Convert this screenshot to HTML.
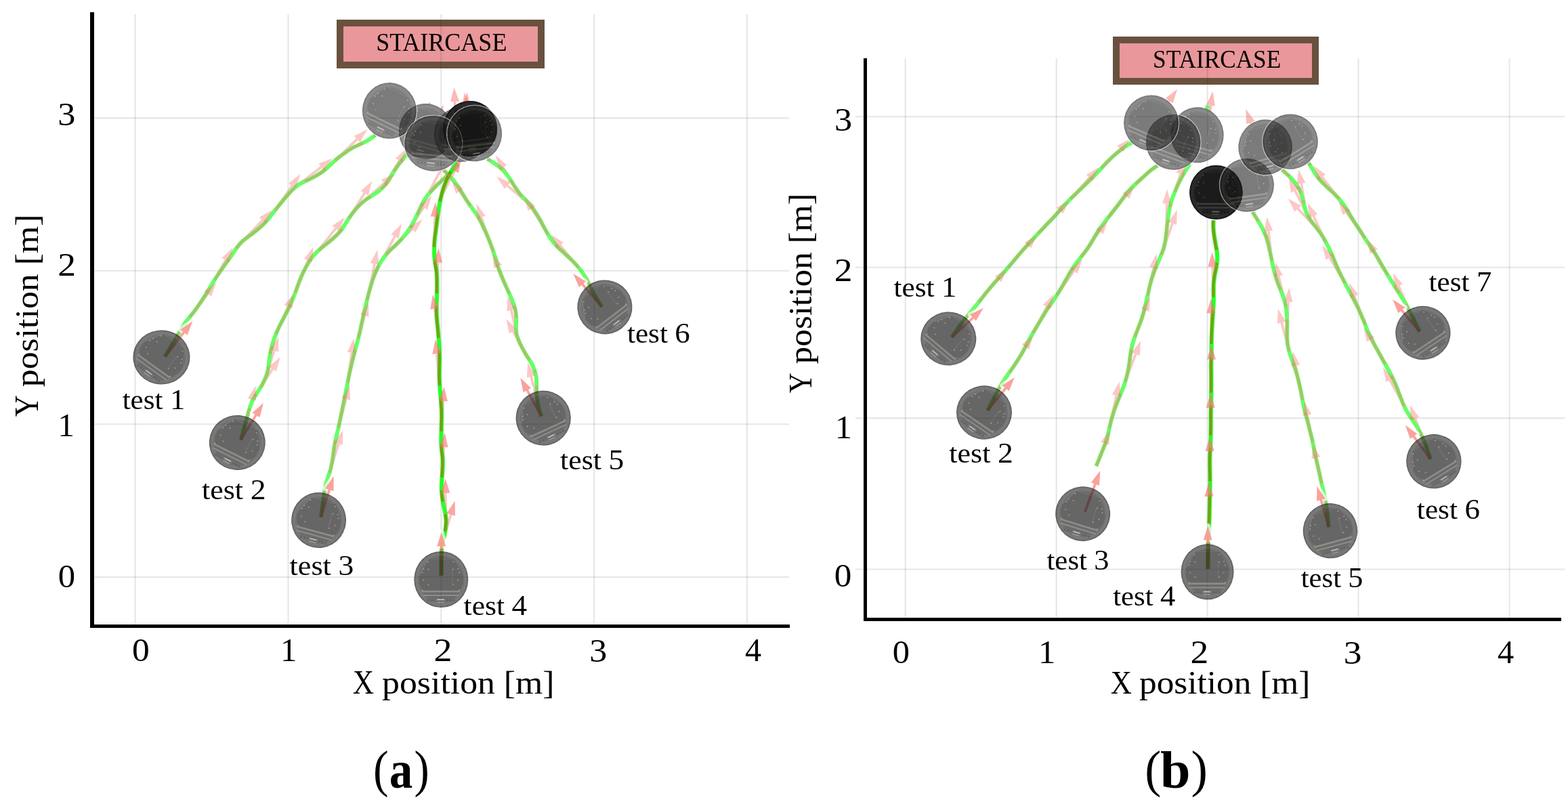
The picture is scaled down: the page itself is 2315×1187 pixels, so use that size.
<!DOCTYPE html>
<html lang="en"><head><meta charset="utf-8"><title>Robot docking trajectories</title>
<style>html,body{margin:0;padding:0;background:#fff}body{width:2315px;height:1187px;overflow:hidden}svg{display:block}text{font-family:"Liberation Serif","DejaVu Serif",serif;fill:#000}</style>
</head><body>
<svg width="2315" height="1187" viewBox="0 0 2315 1187" role="img" aria-label="Robot docking trajectories towards the staircase, panels (a) and (b)">
<defs>
<radialGradient id="rg" cx="0" cy="0" r="40" gradientUnits="userSpaceOnUse">
<stop offset="0" stop-color="#1e1e1e"/><stop offset="0.8" stop-color="#202020"/><stop offset="0.89" stop-color="#383838"/><stop offset="0.95" stop-color="#2c2c2c"/><stop offset="0.985" stop-color="#0a0a0a"/><stop offset="1" stop-color="#000"/>
</radialGradient>
<g id="rb">
<circle r="40" fill="url(#rg)"/>
<path d="M-19 -29 L19 -29 L33 -6 L33 6 L28 16 L-28 16 L-33 6 L-33 -6 Z" fill="#181818" stroke="#2e2e2e" stroke-width="0.7"/>
<path d="M-33 -5 L-19.5 -28.5" stroke="#444" stroke-width="0.9" fill="none"/>
<rect x="-29" y="15.8" width="57" height="2.4" fill="#54544c"/>
<rect x="-27.5" y="21.6" width="54" height="2" fill="#54544c"/>
<rect x="-22" y="27.2" width="43" height="4.4" rx="1.2" fill="#2a2a2a"/>
<rect x="-6" y="27.8" width="10.5" height="1.5" fill="#a8a8a8"/>
<rect x="-6" y="32" width="10.5" height="1.3" fill="#6e6e6e"/>
<g fill="#0c0c0c"><rect x="-19.5" y="28" width="2" height="2.8"/><rect x="-15" y="28" width="2.6" height="2.8"/><rect x="-10.5" y="28" width="1.5" height="2.8"/><rect x="8" y="28" width="2.4" height="2.8"/><rect x="12" y="28" width="2.6" height="2.8"/><rect x="17" y="28" width="1.8" height="2.8"/></g>
<path d="M16.5 -14 L16.5 7" stroke="#444" stroke-width="0.6"/>
<g fill="#7c6c2c"><circle cx="-19.3" cy="-25" r="1"/><circle cx="18.2" cy="-25" r="1"/><circle cx="-26.1" cy="-15" r="1"/><circle cx="-18.8" cy="-14.3" r="1"/><circle cx="17.7" cy="-14.3" r="1"/><circle cx="24.8" cy="-15" r="1"/><circle cx="-27.8" cy="-9.9" r="1"/><circle cx="26.7" cy="-9.9" r="1"/><circle cx="-26" cy="1.1" r="1"/><circle cx="24.8" cy="1.1" r="1"/><circle cx="-18.8" cy="7.4" r="1"/><circle cx="17.7" cy="7.4" r="1"/><circle cx="-27.8" cy="15.3" r="1"/><circle cx="26.7" cy="15.3" r="1"/></g>
</g>
<path id="pL1" d="M243.5 526.5C244.5 524.8 247.6 519.6 249.7 516.2C251.8 512.8 253.8 509.3 255.9 505.9C257.9 502.4 260 499 262 495.5C264 492.1 265.9 488.5 268 485.1C270.1 481.7 272.2 478.3 274.5 475C276.8 471.8 279.5 468.8 282 465.7C284.5 462.6 287 459.4 289.4 456.2C291.8 453 294 449.6 296.2 446.3C298.5 443 300.7 439.6 302.8 436.3C305 432.9 307.1 429.5 309.1 426C311.2 422.6 313.2 419.1 315.3 415.7C317.4 412.3 319.5 408.9 321.8 405.6C324 402.2 326.3 399 328.6 395.7C330.9 392.4 333.3 389.2 335.6 385.9C337.9 382.6 340.3 379.4 342.5 376.1C344.8 372.8 346.9 369.3 349.3 366.1C351.7 363 354.1 359.8 356.9 357.1C359.8 354.3 363.1 352.1 366.2 349.6C369.4 347.2 372.7 344.9 375.9 342.4C379 339.9 382.1 337.4 385.1 334.7C388 332 390.9 329.2 393.6 326.3C396.3 323.3 398.6 320.1 401.1 317C403.6 313.8 406 310.6 408.5 307.5C411 304.3 413.6 301.2 416.1 298.1C418.7 295 421.2 291.9 423.9 288.9C426.5 285.9 429.1 282.8 432 280.1C434.8 277.4 437.8 274.7 441.1 272.6C444.4 270.4 448.1 268.9 451.6 267.1C455.2 265.3 458.9 263.6 462.4 261.8C466 259.9 469.5 258 472.8 255.8C476.1 253.6 479.3 251.1 482.3 248.5C485.3 246 488 242.9 491 240.2C493.9 237.5 496.9 234.9 500 232.4C503.1 229.9 506.4 227.6 509.7 225.3C513 223 516.3 220.7 519.7 218.7C523.2 216.8 526.9 215.2 530.5 213.5C534.1 211.8 537.8 210.3 541.2 208.3C544.7 206.4 549 203.2 551.2 201.7C553.5 200.3 554 199.8 554.5 199.4"/>
<path id="pL2" d="M355.5 649.3C356.1 647.4 357.8 641.6 358.9 637.7C360 633.9 361 630 362 626.1C363 622.2 364.1 618.4 365.2 614.5C366.2 610.6 367.3 606.7 368.5 602.9C369.8 599.1 370.9 595.3 372.6 591.7C374.3 588.1 376.6 584.8 378.7 581.4C380.8 578 383.2 574.8 385.2 571.3C387.2 567.9 389.1 564.3 390.7 560.7C392.3 557 393.9 553.3 394.9 549.5C395.9 545.7 396.3 541.7 396.8 537.8C397.4 533.8 397.6 529.8 398.2 525.8C398.9 521.9 399.7 517.9 400.7 514.1C401.6 510.2 402.7 506.3 404 502.5C405.3 498.7 406.7 495 408.2 491.3C409.8 487.6 411.4 483.9 413.2 480.3C414.9 476.7 416.9 473.2 418.8 469.6C420.6 466.1 422.5 462.5 424.3 458.9C426.1 455.4 427.8 451.7 429.4 448C431 444.4 432.7 440.7 434.1 437C435.6 433.2 436.8 429.4 438.2 425.7C439.6 421.9 440.9 418.1 442.4 414.4C443.9 410.6 445.5 407 447.2 403.3C448.9 399.7 450.7 396.1 452.6 392.6C454.6 389.1 456.6 385.6 458.9 382.4C461.2 379.2 463.8 376.1 466.6 373.3C469.4 370.4 472.5 367.9 475.5 365.3C478.6 362.7 481.8 360.3 484.9 357.8C488 355.2 491.2 352.7 494.1 349.9C497 347.2 499.9 344.5 502.5 341.4C505 338.4 507 334.9 509.2 331.6C511.4 328.3 513.4 324.8 515.7 321.5C518 318.1 520.3 314.8 522.8 311.7C525.3 308.6 527.9 305.6 530.7 302.8C533.6 300 536.7 297.4 539.9 295C543 292.6 546.5 290.6 549.9 288.4C553.2 286.2 556.8 284.3 559.8 281.8C562.9 279.3 565.6 276.4 568.2 273.4C570.8 270.4 573 267.1 575.2 263.7C577.4 260.4 579.3 256.8 581.4 253.4C583.6 250 585.8 246.7 588.1 243.5C590.5 240.2 593 237.1 595.6 234C598.1 230.9 601.8 227 603.6 225C605.4 223.1 605.9 222.7 606.4 222.2"/>
<path id="pL3" d="M473.7 763.4C474 761.4 474.8 755.4 475.4 751.5C476 747.5 476.6 743.5 477.1 739.5C477.7 735.6 478.1 731.6 478.8 727.6C479.4 723.6 479.9 719.7 480.8 715.8C481.8 711.9 483.2 708.2 484.4 704.3C485.6 700.5 487 696.7 488 692.9C489 689 489.7 685 490.5 681.1C491.2 677.2 491.8 673.2 492.3 669.2C492.9 665.2 493.2 661.2 493.9 657.3C494.5 653.3 495.4 649.5 496.3 645.6C497.2 641.7 498.2 637.8 499.1 633.9C500 630 500.8 626 501.6 622.1C502.5 618.2 503.3 614.3 504.1 610.3C505 606.4 505.8 602.4 506.5 598.5C507.3 594.6 508.1 590.6 508.9 586.7C509.7 582.7 510.5 578.8 511.3 574.9C512.1 570.9 512.8 567 513.6 563C514.4 559.1 515.2 555.2 516 551.2C516.9 547.3 517.7 543.4 518.6 539.5C519.6 535.6 520.6 531.7 521.5 527.8C522.5 523.9 523.6 520 524.6 516.1C525.6 512.2 526.7 508.4 527.7 504.5C528.7 500.6 529.7 496.7 530.6 492.8C531.6 488.9 532.4 484.9 533.2 481C534.1 477.1 534.9 473.1 535.8 469.2C536.6 465.3 537.5 461.4 538.4 457.5C539.3 453.5 540.2 449.6 541.2 445.7C542.1 441.8 543.1 437.9 544.1 434C545.2 430.2 546.2 426.3 547.4 422.4C548.5 418.6 549.6 414.7 551 410.9C552.3 407.2 553.8 403.4 555.5 399.8C557.1 396.1 558.9 392.5 560.9 389.1C562.9 385.6 565.2 382.3 567.6 379.1C570 376 572.7 372.9 575.4 370C578.2 367.1 581.3 364.6 584.2 361.8C587 359 589.9 356.2 592.6 353.2C595.2 350.2 597.8 347.1 600.2 343.9C602.6 340.7 604.9 337.5 607 334.1C609.1 330.6 610.9 327 612.8 323.5C614.6 319.9 616.3 316.3 618 312.6C619.8 309 621.3 305.3 623.1 301.7C625 298.2 626.8 294.6 629.1 291.4C631.3 288.1 634 285.1 636.7 282.1C639.3 279.1 642.1 276.2 644.9 273.4C647.8 270.5 650.8 267.9 653.7 265.2C656.7 262.4 659.7 259.8 662.6 257C665.5 254.3 668.8 250.9 671.2 248.6C673.6 246.2 676 243.8 676.9 242.9"/>
<path id="pL4" d="M651.3 850C651.3 848 651.3 842 651.3 838C651.3 834 651.3 830 651.3 826C651.4 822 651.3 817.9 651.6 814C651.8 810 652.1 806.1 652.8 802.3C653.5 798.5 654.8 794.9 655.6 791.2C656.4 787.5 657.1 783.7 657.6 779.9C658.1 776.1 658.5 772.4 658.4 768.5C658.3 764.7 657.6 760.9 657 757.1C656.3 753.3 655.2 749.6 654.5 745.8C653.8 742 653.2 738.2 652.7 734.5C652.2 730.8 651.8 727.2 651.6 723.4C651.5 719.6 651.6 715.8 651.8 711.9C652 708 652.3 703.9 652.6 700C652.8 696 653.2 692 653.3 688C653.4 684 653.4 680 653.2 676C652.9 672 652.2 668.1 651.8 664.1C651.5 660.2 651.1 656.2 651 652.3C650.9 648.3 651.1 644.3 651.2 640.3C651.3 636.3 651.4 632.3 651.5 628.3C651.6 624.2 651.8 620.2 651.8 616.2C651.8 612.2 651.8 608.2 651.6 604.2C651.4 600.3 651 596.3 650.7 592.3C650.4 588.3 650 584.3 649.7 580.3C649.4 576.3 649.1 572.3 648.9 568.3C648.7 564.3 648.4 560.3 648.3 556.3C648.2 552.3 648.3 548.3 648.4 544.3C648.4 540.3 648.7 536.3 648.7 532.3C648.7 528.3 648.7 524.3 648.6 520.3C648.5 516.3 648.2 512.3 648 508.3C647.7 504.3 647.4 500.3 647.1 496.3C646.8 492.3 646.4 488.3 646.1 484.4C645.7 480.4 645.2 476.4 644.9 472.4C644.6 468.4 644.3 464.4 644.2 460.4C644.1 456.4 644.2 452.4 644.3 448.4C644.4 444.4 644.6 440.4 644.7 436.4C644.8 432.4 644.8 428.4 644.9 424.4C644.9 420.4 645 416.4 644.9 412.4C644.7 408.4 644.6 404.4 644.2 400.5C643.7 396.5 642.8 392.6 642.2 388.7C641.7 384.8 641.2 380.8 640.9 376.9C640.7 372.9 640.7 368.9 640.8 364.9C640.9 360.9 641.2 356.9 641.5 352.9C641.9 348.9 642.5 345 643.1 341C643.6 337 644.1 333.1 644.6 329.1C645.1 325.1 645.6 321.1 646.1 317.2C646.7 313.2 647.2 309.3 647.9 305.3C648.6 301.4 649.4 297.4 650.3 293.5C651.2 289.6 652.1 285.8 653.3 281.9C654.4 278.1 655.7 274.3 657.1 270.6C658.6 266.9 660.2 263.2 662 259.7C663.8 256.1 665.9 252.7 667.9 249.2C669.8 245.7 672.9 240.5 673.9 238.8"/>
<path id="pL5" d="M799.3 614.6C798.7 612.7 796.7 607 795.7 603.1C794.7 599.2 793.9 595.3 793.3 591.3C792.7 587.3 792.4 583.3 792.2 579.3C792 575.3 792.3 571.3 792.2 567.3C792.1 563.3 792.2 559.3 791.6 555.5C790.9 551.7 789.8 548 788.4 544.4C787.1 540.9 785.3 537.4 783.5 534.2C781.7 531 779.5 528.3 777.6 525.1C775.6 521.9 773.7 518.4 771.8 515C770 511.5 768 507.9 766.5 504.3C765 500.6 763.4 496.9 762.6 493.2C761.9 489.4 762 485.5 761.9 481.6C761.9 477.7 762.4 473.6 762.2 469.7C762 465.7 761.7 461.8 761 457.9C760.2 454.1 758.8 450.4 757.5 446.7C756.1 443 754.5 439.3 752.9 435.7C751.3 432.1 749.6 428.5 748 424.8C746.4 421.2 744.8 417.6 743.2 414C741.7 410.4 740.2 406.8 738.8 403.3C737.4 399.8 736.1 396.7 734.9 393.1C733.7 389.5 732.9 385.5 731.8 381.7C730.6 377.9 729.3 374.1 728 370.3C726.7 366.5 725.3 362.7 723.8 358.9C722.4 355.2 720.9 351.4 719.3 347.7C717.7 344 716 340.4 714.3 336.7C712.6 333.1 711 329.4 709.1 325.9C707.2 322.3 705.2 318.9 703 315.5C700.8 312.2 698.2 309 695.9 305.8C693.5 302.5 691.2 299.2 689 295.9C686.8 292.5 684.8 289 682.7 285.6C680.6 282.2 678.5 278.7 676.2 275.4C673.9 272.1 671.6 268.8 669.1 265.7C666.5 262.6 663.2 259.3 660.9 256.9C658.6 254.5 656.2 252.1 655.2 251.2"/>
<path id="pL6" d="M888.5 452.9C887.4 451.2 884.2 446 882.1 442.6C880 439.1 877.9 435.6 875.9 432.1C874 428.5 872.4 424.8 870.6 421.2C868.7 417.6 867 413.9 865 410.4C862.9 406.9 860.7 403.5 858.3 400.3C855.9 397 853.3 393.9 850.6 390.9C847.9 387.9 845 385 842.1 382.2C839.2 379.4 836.2 376.6 833.3 373.8C830.3 371.1 827.2 368.5 824.3 365.6C821.5 362.7 818.8 359.8 816.3 356.6C813.8 353.4 811.6 350 809.5 346.6C807.3 343.1 805.4 339.6 803.4 336C801.5 332.5 799.8 328.8 797.8 325.2C795.8 321.7 793.8 318.2 791.5 314.8C789.3 311.4 787.1 308.1 784.5 304.9C782 301.8 779.2 298.8 776.5 295.9C773.8 292.9 770.7 290.1 768.2 287C765.6 283.9 763.3 280.6 761.1 277.2C758.8 273.9 756.8 270.3 754.6 267C752.4 263.6 750.1 260.1 747.6 257C745.1 253.9 742.5 250.8 739.6 248.2C736.6 245.6 733.1 243.4 729.8 241.2C726.4 238.9 721.2 235.7 719.5 234.6"/>
<mask id="mA" maskUnits="userSpaceOnUse" x="0" y="0" width="2315" height="1187"><rect width="2315" height="1187" fill="#fff"/><g fill="none" stroke="#000" stroke-width="5.5"><use href="#pL1"/><use href="#pL2"/><use href="#pL3"/><use href="#pL4"/><use href="#pL5"/><use href="#pL6"/></g></mask>
<mask id="cA" maskUnits="userSpaceOnUse" x="0" y="0" width="2315" height="1187"><rect width="2315" height="1187" fill="#fff"/><ellipse cx="628.7" cy="194" rx="39.5" ry="40.5"/><ellipse cx="681" cy="198.5" rx="39.5" ry="40"/><ellipse cx="694" cy="190" rx="39.5" ry="40.5"/><ellipse cx="574.9" cy="163.4" rx="39.5" ry="40.9"/><ellipse cx="639.7" cy="211.7" rx="42.1" ry="40.5"/><ellipse cx="700.7" cy="197.2" rx="39.9" ry="40.6"/></mask>
<path id="pR1" d="M1405.3 497.9C1406.4 496.2 1409.8 491.2 1412.1 487.9C1414.4 484.6 1416.7 481.3 1419.1 478.1C1421.5 474.8 1424 471.7 1426.5 468.6C1429 465.5 1431.6 462.5 1434.2 459.4C1436.7 456.3 1439.3 453.3 1441.8 450.1C1444.4 447 1446.8 443.8 1449.3 440.7C1451.8 437.5 1454.2 434.3 1456.8 431.2C1459.3 428 1461.9 424.9 1464.5 421.9C1467.1 418.8 1469.8 415.9 1472.5 412.9C1475.2 409.9 1477.9 407 1480.5 404.1C1483.2 401.1 1485.7 398.2 1488.2 395.2C1490.8 392.2 1493.2 389.2 1495.8 386.2C1498.3 383.1 1500.8 380.1 1503.4 377.1C1506 374 1508.6 370.9 1511.3 367.9C1514 364.9 1516.7 362 1519.4 359C1522.1 356.1 1524.9 353.2 1527.6 350.3C1530.4 347.4 1533 344.5 1535.8 341.5C1538.5 338.6 1541.3 335.7 1544 332.8C1546.8 329.9 1549.6 327.1 1552.4 324.1C1555.2 321.2 1557.9 318.2 1560.6 315.2C1563.3 312.3 1565.9 309.2 1568.5 306.3C1571.2 303.3 1573.9 300.4 1576.7 297.6C1579.4 294.7 1582.3 292 1585.1 289.2C1588 286.4 1590.9 283.6 1593.8 280.8C1596.7 278 1599.5 275.2 1602.4 272.4C1605.3 269.6 1608.2 266.8 1611.1 263.9C1613.9 261.1 1616.8 258.2 1619.6 255.3C1622.3 252.4 1625.1 249.4 1627.8 246.5C1630.6 243.6 1633.3 240.6 1636.1 237.7C1639 234.9 1641.8 232.1 1644.8 229.4C1647.8 226.7 1650.9 224.2 1654.1 221.8C1657.2 219.3 1660.5 216.8 1663.8 214.7C1667.1 212.6 1672.1 210.1 1673.8 209.2"/>
<path id="pR2" d="M1458.2 605.9C1459.1 604.1 1461.9 598.7 1463.7 595.1C1465.5 591.6 1467.3 588 1469.2 584.4C1471 580.8 1472.9 577.3 1474.8 573.8C1476.8 570.3 1478.8 566.8 1481 563.4C1483.1 560 1485.5 556.8 1487.7 553.5C1490 550.2 1492.4 547 1494.7 543.7C1497 540.3 1499.2 537 1501.4 533.6C1503.5 530.3 1505.6 526.9 1507.7 523.5C1509.7 520 1511.6 516.6 1513.4 513.1C1515.3 509.7 1517.1 506.2 1519 502.7C1520.8 499.2 1522.8 495.7 1524.7 492.2C1526.7 488.8 1528.8 485.3 1530.8 481.9C1532.8 478.5 1534.8 475.1 1536.8 471.8C1538.8 468.4 1540.7 465.1 1542.8 461.8C1544.9 458.5 1547.1 455.2 1549.3 451.9C1551.5 448.6 1553.8 445.4 1556.1 442C1558.3 438.7 1560.6 435.4 1562.7 432C1564.8 428.6 1566.9 425.1 1568.9 421.7C1570.9 418.2 1572.8 414.7 1574.8 411.2C1576.8 407.7 1578.7 404.2 1580.8 400.9C1582.9 397.5 1585 394.2 1587.3 391C1589.6 387.8 1592 384.7 1594.4 381.5C1596.9 378.4 1599.4 375.3 1601.8 372.1C1604.2 369 1606.4 365.7 1608.6 362.3C1610.8 359 1612.7 355.4 1614.8 352C1616.8 348.6 1618.8 345.1 1621 341.7C1623.2 338.4 1625.5 335.1 1627.9 331.9C1630.2 328.6 1632.7 325.5 1635.2 322.3C1637.7 319.1 1640.2 316 1642.7 312.8C1645.2 309.7 1647.7 306.5 1650.1 303.4C1652.5 300.2 1654.9 296.9 1657.3 293.7C1659.7 290.5 1662 287.2 1664.6 284.2C1667.1 281.2 1669.8 278.2 1672.6 275.4C1675.4 272.6 1678.4 270 1681.3 267.3C1684.2 264.6 1687.2 262 1690.2 259.3C1693.1 256.6 1696 253.8 1699.1 251.3C1702.3 248.8 1707.4 245.5 1709 244.4"/>
<path id="pR3" d="M1618.4 688.1C1619.2 686.2 1621.5 680.6 1623 676.9C1624.5 673.2 1626 669.4 1627.5 665.7C1629 662 1630.6 658.3 1632 654.5C1633.3 650.7 1634.5 646.9 1635.5 643C1636.5 639.2 1637.2 635.2 1638.1 631.3C1639 627.3 1639.9 623.4 1640.9 619.5C1641.9 615.6 1643.1 611.8 1644.3 607.9C1645.6 604.1 1647 600.3 1648.4 596.6C1649.9 592.8 1651.5 589.2 1653 585.5C1654.5 581.7 1656.1 578.1 1657.5 574.3C1658.9 570.6 1660.3 566.8 1661.5 562.9C1662.7 559.1 1663.7 555.2 1664.6 551.3C1665.5 547.4 1666.2 543.5 1666.8 539.5C1667.5 535.5 1667.9 531.5 1668.4 527.6C1669 523.6 1669.5 519.6 1670.3 515.7C1671.1 511.8 1672 507.9 1673.2 504.1C1674.3 500.3 1675.8 496.6 1677.2 492.9C1678.6 489.1 1680.1 485.4 1681.5 481.6C1683 477.9 1684.4 474.1 1685.7 470.3C1686.9 466.5 1688.1 462.6 1689.1 458.7C1690.2 454.8 1691 450.9 1691.9 447C1692.9 443.1 1693.7 439.1 1694.6 435.2C1695.5 431.3 1696.3 427.3 1697.2 423.5C1698.2 419.6 1699.2 415.7 1700.3 411.9C1701.5 408.1 1702.9 404.3 1704.2 400.5C1705.6 396.8 1707.1 393 1708.6 389.4C1710.1 385.7 1712 382.1 1713.5 378.4C1715.1 374.7 1716.7 371 1717.9 367.2C1719 363.4 1719.8 359.5 1720.5 355.5C1721.2 351.6 1721.5 347.5 1722 343.6C1722.5 339.6 1722.8 335.5 1723.3 331.5C1723.8 327.5 1724.3 323.5 1724.8 319.5C1725.4 315.6 1726 311.6 1726.8 307.6C1727.6 303.7 1728.5 299.8 1729.7 296C1730.9 292.2 1732.5 288.5 1734 284.7C1735.5 281 1737.1 277.3 1738.7 273.6C1740.4 270 1742.1 266.4 1744 262.8C1745.9 259.3 1748 255.9 1750.1 252.4C1752.2 249 1755.6 244 1756.7 242.3"/>
<path id="pR4" d="M1783 840C1783 838 1783.1 832 1783.1 828C1783.1 824 1783.2 820 1783.2 816C1783.3 812 1783.3 807.9 1783.5 803.9C1783.6 799.9 1783.7 795.9 1783.9 791.9C1784.1 787.9 1784.3 783.9 1784.5 779.9C1784.7 775.9 1784.9 771.9 1785.1 767.9C1785.2 763.9 1785.3 759.9 1785.4 755.9C1785.5 751.9 1785.6 747.9 1785.7 743.9C1785.8 739.9 1785.8 735.9 1785.9 731.9C1786 727.9 1786.1 723.9 1786.1 719.9C1786.2 715.9 1786.2 711.8 1786.2 707.8C1786.2 703.8 1786.1 699.8 1786.1 695.8C1786 691.8 1785.9 687.8 1785.9 683.8C1785.9 679.8 1786 675.8 1786.1 671.8C1786.3 667.8 1786.5 663.8 1786.6 659.8C1786.8 655.8 1786.9 651.8 1787.1 647.8C1787.2 643.8 1787.3 639.8 1787.3 635.8C1787.4 631.8 1787.4 627.8 1787.4 623.7C1787.4 619.7 1787.4 615.7 1787.4 611.7C1787.5 607.7 1787.5 603.7 1787.6 599.7C1787.7 595.7 1787.8 591.7 1787.8 587.7C1787.9 583.7 1787.9 579.7 1788 575.7C1788 571.7 1788 567.7 1788 563.7C1788 559.7 1788 555.7 1788 551.7C1787.9 547.6 1787.9 543.6 1787.9 539.6C1788 535.6 1788 531.6 1788 527.6C1788.1 523.6 1788.1 519.6 1788.2 515.6C1788.3 511.6 1788.3 507.6 1788.4 503.6C1788.5 499.6 1788.6 495.6 1788.8 491.6C1788.9 487.6 1789.1 483.6 1789.4 479.6C1789.6 475.6 1789.9 471.6 1790.1 467.6C1790.4 463.6 1790.7 459.6 1790.9 455.6C1791.1 451.6 1791.3 447.6 1791.4 443.6C1791.5 439.6 1791.4 435.6 1791.4 431.6C1791.4 427.6 1791.3 423.6 1791.5 419.6C1791.8 415.6 1792.2 411.7 1792.8 407.8C1793.4 403.9 1794.5 400.1 1795.1 396.2C1795.8 392.4 1796.6 388.5 1796.8 384.6C1797 380.6 1796.8 376.7 1796.5 372.8C1796.1 368.9 1795.2 364.9 1794.5 361C1793.9 357.1 1793.1 353.1 1792.5 349.2C1792 345.2 1791.4 341.3 1791.2 337.3C1790.9 333.3 1791.1 327.3 1791.1 325.3"/>
<path id="pR5" d="M1961.7 778.3C1961.5 776.3 1961 770.3 1960.6 766.3C1960.2 762.4 1959.8 758.4 1959.3 754.4C1958.8 750.5 1958.2 746.6 1957.5 742.7C1956.8 738.8 1956.1 735 1955.3 731.1C1954.5 727.2 1953.5 723.4 1952.6 719.5C1951.7 715.6 1950.7 711.7 1949.9 707.8C1949 703.9 1948.3 700 1947.4 696.1C1946.5 692.2 1945.6 688.3 1944.7 684.4C1943.8 680.4 1942.9 676.5 1942.1 672.6C1941.3 668.7 1940.5 664.8 1939.7 660.8C1938.9 656.9 1938.1 653 1937.3 649.1C1936.4 645.2 1935.4 641.3 1934.4 637.4C1933.4 633.5 1932.5 629.6 1931.5 625.8C1930.5 621.9 1929.4 618 1928.4 614.1C1927.4 610.2 1926.3 606.4 1925.4 602.5C1924.5 598.6 1923.8 594.7 1923 590.7C1922.3 586.8 1921.6 582.9 1920.9 578.9C1920.1 575 1919.2 571.1 1918.3 567.2C1917.4 563.3 1916.5 559.4 1915.5 555.5C1914.4 551.7 1913.3 547.8 1912.1 544C1910.9 540.2 1909.5 536.5 1908.2 532.7C1906.9 529 1905.4 525.5 1904.3 521.8C1903.1 518.1 1902.1 514.3 1901.4 510.5C1900.7 506.7 1900.4 502.7 1900.2 498.8C1900 494.8 1900.1 490.8 1900.2 486.8C1900.2 482.8 1900.4 478.9 1900.3 474.9C1900.2 470.9 1900.1 466.9 1899.7 462.9C1899.4 459 1899 455 1898.2 451.1C1897.4 447.2 1896.3 443.4 1895.1 439.6C1893.9 435.8 1892.2 432.2 1890.8 428.4C1889.3 424.7 1887.8 421 1886.4 417.2C1885.1 413.5 1883.8 409.7 1882.7 405.8C1881.5 402 1880.6 398.1 1879.7 394.2C1878.8 390.3 1878.1 386.4 1877.3 382.5C1876.5 378.6 1875.7 374.6 1874.8 370.7C1873.9 366.8 1873.2 362.9 1872.2 359C1871.1 355.2 1870 351.3 1868.6 347.6C1867.2 343.9 1865.5 340.3 1863.7 336.8C1861.9 333.2 1859.7 329.8 1857.7 326.4C1855.6 323 1852.7 318.5 1851.3 316.2C1849.9 313.9 1849.6 313.4 1849.2 312.8"/>
<path id="pR6" d="M2112 677.8C2111.4 675.9 2109.6 670.2 2108.2 666.4C2106.9 662.6 2105.5 658.9 2104 655.1C2102.5 651.4 2101.1 647.7 2099.4 644.1C2097.8 640.5 2096 637 2094.1 633.6C2092.1 630.1 2089.9 626.8 2087.7 623.5C2085.5 620.1 2083.1 616.9 2081 613.6C2078.8 610.2 2076.7 606.9 2074.9 603.4C2073 599.9 2071.6 596.2 2070.1 592.5C2068.6 588.9 2067.3 585.1 2065.8 581.4C2064.4 577.6 2063 573.9 2061.5 570.2C2059.9 566.5 2058.4 562.8 2056.6 559.2C2054.9 555.6 2053.1 552 2051.2 548.5C2049.3 545 2047.3 541.5 2045.4 538C2043.4 534.5 2041.5 531 2039.5 527.5C2037.6 524 2035.6 520.5 2033.7 517C2031.7 513.5 2029.8 510 2028 506.5C2026.1 502.9 2024.3 499.4 2022.6 495.8C2020.9 492.2 2019.4 488.5 2017.8 484.8C2016.3 481.1 2014.9 477.4 2013.4 473.7C2011.8 470.1 2010.3 466.4 2008.7 462.8C2007.2 459.2 2005.6 455.6 2003.9 452.1C2002.2 448.7 2000.4 445.3 1998.6 441.8C1996.8 438.4 1994.9 435.1 1993.1 431.6C1991.2 428.2 1989.4 424.8 1987.6 421.4C1985.8 417.9 1983.9 414.4 1982.1 410.9C1980.3 407.4 1978.4 403.8 1976.8 400.2C1975.1 396.6 1973.5 392.9 1972 389.3C1970.4 385.6 1969.1 381.9 1967.5 378.2C1965.9 374.6 1964.2 370.9 1962.5 367.3C1960.8 363.7 1959 360.1 1957 356.6C1955.1 353.1 1953.1 349.6 1951 346.3C1948.8 343 1946.4 339.8 1944 336.7C1941.6 333.5 1938.8 330.7 1936.6 327.5C1934.3 324.3 1932.1 321.1 1930.4 317.6C1928.7 314.1 1927.5 310.3 1926.3 306.5C1925.2 302.8 1924.6 298.8 1923.6 295C1922.6 291.2 1921.7 287.3 1920.2 283.8C1918.7 280.2 1916.8 276.7 1914.7 273.5C1912.6 270.2 1910 267.1 1907.4 264.1C1904.7 261.2 1901.2 258.1 1898.7 255.9C1896.3 253.6 1893.7 251.5 1892.7 250.6"/>
<path id="pR7" d="M2095.9 489.6C2095 487.8 2092.5 482.3 2090.7 478.7C2088.9 475.1 2087.2 471.4 2085.4 467.9C2083.6 464.3 2081.7 460.7 2079.9 457.2C2078.1 453.7 2076.4 450.3 2074.5 447C2072.7 443.7 2070.6 440.6 2068.6 437.4C2066.6 434.2 2064.4 431 2062.3 427.7C2060.2 424.4 2058.2 421.1 2056.1 417.8C2054 414.4 2051.9 411.1 2049.8 407.7C2047.7 404.3 2045.6 400.9 2043.6 397.4C2041.5 393.9 2039.5 390.5 2037.5 387C2035.5 383.5 2033.6 379.9 2031.5 376.5C2029.5 373.1 2027.3 369.8 2025.1 366.5C2022.9 363.2 2020.5 360 2018.3 356.7C2016.1 353.4 2014.1 349.9 2011.9 346.6C2009.8 343.2 2007.6 339.8 2005.4 336.5C2003.2 333.2 2000.8 329.9 1998.7 326.5C1996.5 323.1 1994.6 319.6 1992.5 316.2C1990.5 312.7 1988.5 309.2 1986.3 305.9C1984.1 302.6 1981.8 299.4 1979.3 296.4C1976.8 293.3 1974.2 290.4 1971.5 287.6C1968.7 284.8 1965.7 282.2 1962.9 279.6C1960.1 276.9 1957.1 274.2 1954.4 271.5C1951.7 268.7 1949 265.9 1946.6 263C1944.3 260.1 1942.2 257.1 1940.2 253.8C1938.1 250.6 1935.6 246 1934.2 243.7C1932.9 241.5 1932.5 240.9 1932.1 240.3"/>
<mask id="mB" maskUnits="userSpaceOnUse" x="0" y="0" width="2315" height="1187"><rect width="2315" height="1187" fill="#fff"/><g fill="none" stroke="#000" stroke-width="5.5"><use href="#pR1"/><use href="#pR2"/><use href="#pR3"/><use href="#pR4"/><use href="#pR5"/><use href="#pR6"/><use href="#pR7"/></g></mask>
<mask id="cB" maskUnits="userSpaceOnUse" x="0" y="0" width="2315" height="1187"><rect width="2315" height="1187" fill="#fff"/><ellipse cx="1767.6" cy="199.3" rx="38.5" ry="40.5"/><ellipse cx="1732.2" cy="209.9" rx="39.8" ry="40.3"/><ellipse cx="1699.6" cy="181.4" rx="40" ry="40.5"/><ellipse cx="1795.4" cy="284" rx="38.7" ry="39.5"/><ellipse cx="1841" cy="273.3" rx="39.4" ry="38.9"/><ellipse cx="1868.1" cy="217.3" rx="39.2" ry="40.3"/><ellipse cx="1905" cy="209.1" rx="40.2" ry="40.1"/></mask></defs>
<rect width="2315" height="1187" fill="#fff"/>
<g id="plot-a">
<rect x="502" y="34" width="297" height="62" fill="#e9979b" stroke="#69513e" stroke-width="10"/>
<g stroke="#14141e" stroke-opacity="0.105" stroke-width="2.1" fill="none">
<path d="M199.6 21V922"/>
<path d="M425.5 21V922"/>
<path d="M651.3 21V922"/>
<path d="M877.2 21V922"/>
<path d="M1103 21V922"/>
<path d="M139 174.4H1165"/>
<path d="M139 399.8H1165"/>
<path d="M139 626.3H1165"/>
<path d="M139 852H1165"/>
</g>
<g mask="url(#cA)">
<g fill="none" stroke="#00ff00" stroke-opacity="0.6" stroke-width="5.9">
<use href="#pL1"/>
<use href="#pL2"/>
<use href="#pL3"/>
<use href="#pL4"/>
<use href="#pL4" x="0.7"/>
<use href="#pL5"/>
<use href="#pL6"/>
</g>
<g fill="none" stroke="#f8766d" stroke-opacity="0.45" stroke-width="3.9">
<use href="#pL1" stroke-dasharray="49.9 19 47.8 19 36.6 19 61.8 19 43.4 19 35.8 19 48.2 19 53.3 1"/>
<use href="#pL2" stroke-dasharray="48.2 19 4 11.8 33.4 19 11.1 19 48.7 19 53.5 19 46.6 19 45.6 19 13.7 19 21.3 19 49.3 1"/>
<use href="#pL3" stroke-dasharray="47.7 19 48.6 19 48.8 19 48.8 19 38.3 19 54.9 19 34.2 19 4 17.7 19.4 19 36.3 19 54 1"/>
<use href="#pL4" stroke="#b05800" stroke-opacity="0.56" stroke-width="4.2" stroke-dasharray="47.2 19 25.3 19 16.9 19 49.2 19 48.6 19 51.5 19 47 19 49.6 19 48.7 19 47 19 48 1"/>
<use href="#pL5" stroke-dasharray="46.3 19 4 17.1 47.5 19 18.2 19 48.1 19 56.4 19 30.8 19 66.6 1"/>
<use href="#pL6" stroke-dasharray="48.3 19 47.8 19 49.3 19 30.3 19 4 18.3 55.1 1"/>
</g>
<g fill="#f8766d" fill-opacity="0.40">
<g mask="url(#mA)"><polygon points="278.4,467.2 305.1,432.6 308.1,435 281.4,469.5"/><polygon points="309.8,421.2 331.5,383.1 334.8,385 313.1,423.1"/><polygon points="355.6,355.7 386.2,323.9 388.9,326.6 358.3,358.4"/><polygon points="405.1,308.8 429.8,273.2 433,275.4 408.2,310.9"/><polygon points="438.5,272 473.1,245.2 475.5,248.2 440.9,275"/><polygon points="494.7,234.3 525.9,204.1 528.5,206.9 497.4,237"/><polygon points="358.6,631.4 370.1,589.4 373.8,590.4 362.3,632.4"/><polygon points="377.1,580.4 400.8,543.7 404,545.8 380.3,582.5"/><polygon points="389.6,558.5 403.1,516.9 406.7,518.1 393.2,559.7"/><polygon points="405.9,491.9 423.7,452 427.2,453.6 409.4,493.4"/><polygon points="436.4,424.9 453.1,383.7 456.7,385.2 440,426.4"/><polygon points="466.3,370.9 494.2,336.2 497.1,338.6 469.3,373.2"/><polygon points="513.3,321.7 536.6,284.1 539.8,286.1 516.5,323.7"/><polygon points="533.3,297.9 565.8,268.9 568.4,271.8 535.8,300.7"/><polygon points="565.5,273.7 587.8,236.2 591.1,238.1 568.7,275.7"/><polygon points="484.9,696.6 498,654.6 501.7,655.7 488.5,697.8"/><polygon points="497.9,630.5 509,588.6 512.7,589.6 501.6,631.4"/><polygon points="511.4,564.3 517.4,520.4 521.2,520.9 515.2,564.8"/><polygon points="524.7,508.3 536.5,465.7 540.1,466.7 528.4,509.3"/><polygon points="542.7,432.2 551.2,389.1 554.9,389.9 546.4,433"/><polygon points="560.1,386.7 581.3,347.9 584.6,349.7 563.4,388.5"/><polygon points="576.2,366.5 607.5,336.9 610.1,339.6 578.9,369.3"/><polygon points="599.6,341.5 624.1,305 627.3,307.1 602.8,343.6"/><polygon points="628.4,289.1 648.5,250.9 651.9,252.7 631.7,290.9"/><polygon points="651,801.7 663.8,759.1 667.5,760.2 654.6,802.8"/><polygon points="656.5,771.8 655.9,727.8 659.7,727.8 660.3,771.8"/><polygon points="650.4,703.3 653.2,659.8 657,660.1 654.2,703.5"/><polygon points="649.4,635.6 652.4,592 656.2,592.3 653.2,635.9"/><polygon points="646.8,565.5 642.9,522.4 646.7,522 650.6,565.1"/><polygon points="645.5,499.6 639.8,456.2 643.6,455.7 649.2,499.1"/><polygon points="642.9,431.8 644.7,387.4 648.5,387.6 646.7,432"/><polygon points="639,363.1 640.3,319.6 644.1,319.7 642.8,363.2"/><polygon points="649,291 669.6,251.7 672.9,253.5 652.4,292.8"/><polygon points="792.8,599.1 782.3,556.4 786,555.5 796.5,598.2"/><polygon points="777.6,528.7 755.9,490.1 759.2,488.3 780.9,526.8"/><polygon points="763.3,501.6 752.7,458.2 756.4,457.3 767,500.7"/><polygon points="750.5,434.9 733.4,394.4 736.9,392.9 754,433.4"/><polygon points="723.1,362.4 708.8,321.4 712.3,320.2 726.7,361.1"/><polygon points="703.1,319.2 677,283.3 680.1,281.1 706.1,316.9"/><polygon points="853.1,396.7 825.5,363.6 828.4,361.1 856,394.3"/><polygon points="807.1,346.3 783.4,308.9 786.6,306.8 810.3,344.3"/><polygon points="781.4,304 748,275.6 750.4,272.7 783.8,301.1"/><polygon points="764.7,285.7 741.2,248.1 744.4,246.1 767.9,283.7"/></g>
<polygon points="301.5,429.8 319.5,417.2 311.8,437.8"/><polygon points="327.6,380.8 343.6,365.8 338.8,387.3"/><polygon points="382.9,320.7 402.1,310.1 392.2,329.7"/><polygon points="426.1,270.6 443.4,257.1 436.7,278"/><polygon points="470.3,241.5 490.9,233.8 478.3,251.8"/><polygon points="522.7,200.8 542.3,190.9 531.7,210.2"/><polygon points="365.7,588.1 377.5,569.6 378.2,591.6"/><polygon points="396.9,541.2 413.8,527.1 407.9,548.3"/><polygon points="398.7,515.5 411.4,497.5 411.1,519.5"/><polygon points="419.5,450.1 434,433.6 431.4,455.4"/><polygon points="448.9,382 462.8,365 460.9,386.9"/><polygon points="490.6,333.3 508.8,321 500.7,341.4"/><polygon points="532.7,281.7 549.3,267.3 543.7,288.6"/><polygon points="562.8,265.5 582.8,256.4 571.4,275.2"/><polygon points="583.9,233.8 600.2,219.1 595,240.5"/><polygon points="493.6,653.2 506.1,635.1 506,657.1"/><polygon points="504.5,587.4 516.2,568.8 517.1,590.8"/><polygon points="512.8,519.7 522.1,499.8 525.7,521.5"/><polygon points="532.1,464.5 543.9,446 544.6,468"/><polygon points="546.7,388.2 557.1,368.9 559.4,390.8"/><polygon points="577.2,345.7 593,330.4 588.6,351.9"/><polygon points="604.3,333.6 624,323.8 613.3,343"/><polygon points="620.3,302.4 637.4,288.6 631.1,309.7"/><polygon points="644.5,248.7 660,233.2 656,254.8"/><polygon points="659.4,757.7 671.7,739.5 671.9,761.5"/><polygon points="659.4,757.7 671.7,739.5 671.9,761.5"/><polygon points="651.3,727.9 657.6,706.8 664.3,727.7"/><polygon points="651.3,727.9 657.6,706.8 664.3,727.7"/><polygon points="648.7,659.5 656.5,639 661.6,660.4"/><polygon points="648.7,659.5 656.5,639 661.6,660.4"/><polygon points="647.8,591.7 655.7,571.2 660.8,592.6"/><polygon points="647.8,591.7 655.7,571.2 660.8,592.6"/><polygon points="638.3,522.8 642.9,501.3 651.3,521.6"/><polygon points="638.3,522.8 642.9,501.3 651.3,521.6"/><polygon points="635.3,456.8 639,435.1 648.2,455.1"/><polygon points="635.3,456.8 639,435.1 648.2,455.1"/><polygon points="640.1,387.2 647.5,366.5 653.1,387.8"/><polygon points="640.1,387.2 647.5,366.5 653.1,387.8"/><polygon points="635.7,319.5 642.9,298.7 648.7,319.9"/><polygon points="635.7,319.5 642.9,298.7 648.7,319.9"/><polygon points="665.5,249.6 681,234 677,255.6"/><polygon points="665.5,249.6 681,234 677,255.6"/><polygon points="777.9,557.5 779.2,535.6 790.5,554.5"/><polygon points="751.9,492.4 747.3,470.9 763.3,486"/><polygon points="748.3,459.3 749.6,437.4 760.9,456.3"/><polygon points="729.2,396.2 727,374.3 741.1,391.1"/><polygon points="704.4,323 703.6,301 716.7,318.7"/><polygon points="673.3,286 666.2,265.2 683.8,278.4"/><polygon points="821.9,366.5 813.5,346.2 831.9,358.2"/><polygon points="779.5,311.3 773.8,290.1 790.5,304.4"/><polygon points="745,279.1 733.2,260.5 753.4,269.2"/><polygon points="737.3,250.6 731.7,229.3 748.3,243.7"/>
</g>
<g fill="#fff" fill-opacity="0.7" stroke="#fff" stroke-opacity="0.7" stroke-width="7" stroke-linejoin="round"><polygon points="266.4,486.7 284.4,474.1 276.6,494.7"/><polygon points="372.4,609.4 388.9,594.9 383.5,616.2"/><polygon points="480.1,721 492.5,702.9 492.5,724.9"/><polygon points="645.1,806.4 651.7,785.4 658.1,806.4"/><polygon points="772.6,579.3 768.3,557.7 784.1,573"/><polygon points="855,424 846.2,403.9 864.8,415.5"/></g>
<g fill="#f8766d" fill-opacity="0.68"><polygon points="242,525.3 270,489.5 266.4,486.7 284.4,474.1 276.6,494.7 273,491.8 245,527.7"/><polygon points="353.9,648.3 376.3,611.8 372.4,609.4 388.9,594.9 383.5,616.2 379.5,613.8 357.1,650.3"/><polygon points="471.9,762.8 484.5,722.4 480.1,721 492.5,702.9 492.5,724.9 488.1,723.5 475.5,764"/><polygon points="649.4,850 649.7,806.4 645.1,806.4 651.7,785.4 658.1,806.4 653.5,806.4 653.2,850"/><polygon points="797.6,615.5 776.7,577 772.6,579.3 768.3,557.7 784.1,573 780,575.2 801,613.7"/><polygon points="887.1,454.1 858.5,421 855,424 846.2,403.9 864.8,415.5 861.4,418.6 889.9,451.7"/></g>
<g fill="none" stroke="#00ff00" stroke-opacity="0.6" stroke-width="5.9"></g>
<g fill="#f8766d" fill-opacity="0.5">
<polygon points="671.9,193 669.6,150.1 665,150.3 670.4,129 678,149.6 673.4,149.9 675.6,192.8"/>
<polygon points="692.6,200.1 686.6,157.6 682.1,158.2 685.6,136.5 695,156.4 690.4,157 696.4,199.6"/>
<polygon points="685.6,175.8 686.6,156.9 682,156.6 689.6,136 695,157.3 690.4,157.1 689.4,176"/>
<polygon points="630.3,213.7 631.8,170.7 627.2,170.6 634.4,149.8 640.2,171 635.6,170.9 634.1,213.8"/>
<polygon points="630.9,213.7 645.6,173.3 641.3,171.7 654.6,154.2 653.5,176.2 649.2,174.6 634.5,215"/>
</g>
</g>
<rect x="133" y="18" width="6" height="909" fill="#000"/>
<rect x="133" y="922" width="1033" height="5" fill="#000"/>
<use href="#rb" transform="translate(628.7 194) scale(1.000 1.025) rotate(15)" opacity="0.57"/>
<use href="#rb" transform="translate(681 198.5) scale(1.000 1.012) rotate(3)" opacity="0.57"/>
<ellipse cx="694" cy="190" rx="40" ry="41" fill="#0a0a0a" fill-opacity="0.7"/>
<ellipse cx="694" cy="190" rx="40" ry="41" fill="#0a0a0a" fill-opacity="0.7"/>
<use href="#rb" transform="translate(694 190) scale(1.000 1.025) rotate(-8)" opacity="0.57"/>
<ellipse cx="574.9" cy="163.4" rx="40.4" ry="41.8" fill="none" stroke="#fff" stroke-opacity="0.5" stroke-width="1.8"/>
<use href="#rb" transform="translate(574.9 163.4) scale(1.000 1.035) rotate(25)" opacity="0.57"/>
<ellipse cx="639.7" cy="211.7" rx="43" ry="41.4" fill="none" stroke="#fff" stroke-opacity="0.5" stroke-width="1.8"/>
<use href="#rb" transform="translate(639.7 211.7) scale(1.065 1.025) rotate(5)" opacity="0.57"/>
<ellipse cx="700.7" cy="197.2" rx="40.8" ry="41.5" fill="none" stroke="#fff" stroke-opacity="0.5" stroke-width="1.8"/>
<use href="#rb" transform="translate(700.7 197.2) scale(1.010 1.028) rotate(-7)" opacity="0.57"/>
<use href="#rb" transform="translate(238.4 527.5) scale(1.050 1.000) rotate(37)" opacity="0.66"/>
<use href="#rb" transform="translate(350.3 653.4) scale(1.038 1.012) rotate(27)" opacity="0.66"/>
<use href="#rb" transform="translate(470.6 768) scale(1.010 1.025) rotate(15)" opacity="0.66"/>
<use href="#rb" transform="translate(651.3 855.5) scale(1.000 1.040) rotate(0)" opacity="0.66"/>
<use href="#rb" transform="translate(802.2 617.2) scale(1.015 1.012) rotate(-25)" opacity="0.66"/>
<use href="#rb" transform="translate(892.9 453.4) scale(1.015 1.000) rotate(-38)" opacity="0.66"/>
</g>
<g id="plot-b">
<rect x="1648" y="59" width="294" height="61" fill="#e9979b" stroke="#69513e" stroke-width="10"/>
<g stroke="#14141e" stroke-opacity="0.105" stroke-width="2.1" fill="none">
<path d="M1336.7 86V912"/>
<path d="M1559.7 86V912"/>
<path d="M1782.6 86V912"/>
<path d="M2005.5 86V912"/>
<path d="M2228.5 86V912"/>
<path d="M1263 172.3H2310"/>
<path d="M1263 394.8H2310"/>
<path d="M1263 617.4H2310"/>
<path d="M1263 840.5H2310"/>
</g>
<g mask="url(#cB)">
<g fill="none" stroke="#00ff00" stroke-opacity="0.6" stroke-width="5.9">
<use href="#pR1"/>
<use href="#pR2"/>
<use href="#pR3"/>
<use href="#pR4"/>
<use href="#pR4" x="0.7"/>
<use href="#pR5"/>
<use href="#pR6"/>
<use href="#pR7"/>
</g>
<g fill="none" stroke="#f8766d" stroke-opacity="0.45" stroke-width="3.9">
<use href="#pR1" stroke-dasharray="46.2 19 48.3 19 47.5 19 51.3 19 45.4 19 42.7 19 50.4 1"/>
<use href="#pR2" stroke-dasharray="46.3 19 47.9 19 47.9 19 46.7 19 51.5 19 45.9 19 92.5 1"/>
<use href="#pR3" stroke-dasharray="40.3 19 53.3 19 49.1 19 45.2 19 44.1 19 53.3 19 5 19 29.3 19 48 1"/>
<use href="#pR4" stroke="#b05800" stroke-opacity="0.56" stroke-width="4.2" stroke-dasharray="46.1 19 45.6 19 48.6 19 44.1 19 53.1 19 50.1 19 50.9 19 94.2 1"/>
<use href="#pR5" stroke-dasharray="46 19 43.6 19 45.4 19 56 19 47.2 19 6.6 19 25.6 19 44.3 19 65.7 1"/>
<use href="#pR6" stroke-dasharray="46.2 19 4 18.1 49.6 19 45.8 19 49.6 19 48 19 48.2 19 4 11.2 11.4 19 64.5 1"/>
<use href="#pR7" stroke-dasharray="45.2 19 12.9 19 44.4 19 51.2 19 46.2 19 54.8 1"/>
</g>
<g fill="#f8766d" fill-opacity="0.40">
<g mask="url(#mB)"><polygon points="1444.1,444.2 1472,411.2 1474.9,413.7 1447,446.6"/><polygon points="1486.8,393.9 1516,361 1518.9,363.5 1489.7,396.4"/><polygon points="1533.2,341.5 1563.2,309.8 1566,312.4 1536,344.1"/><polygon points="1577.6,293.9 1607.1,261.1 1610,263.7 1580.5,296.4"/><polygon points="1622.3,249.6 1652.6,218.4 1655.3,221.1 1625.1,252.2"/><polygon points="1488.7,548.8 1512.4,511.3 1515.6,513.3 1492,550.8"/><polygon points="1523,491.3 1544,452.1 1547.4,453.9 1526.4,493.1"/><polygon points="1558.7,434.7 1584,399.1 1587.1,401.3 1561.8,436.9"/><polygon points="1596.1,376.4 1622,340.6 1625,342.8 1599.1,378.6"/><polygon points="1632.8,322.3 1660.8,288.2 1663.7,290.6 1635.7,324.7"/><polygon points="1616.6,687.4 1629.4,654 1633,655.4 1620.2,688.8"/><polygon points="1637.2,626.5 1646.4,583.5 1650.2,584.3 1641,627.2"/><polygon points="1659.2,563.7 1674.9,522.1 1678.5,523.4 1662.8,565"/><polygon points="1673,498.6 1688.9,457.3 1692.4,458.7 1676.5,500"/><polygon points="1692.1,437.8 1701.2,395.1 1705,395.9 1695.8,438.5"/><polygon points="1715,369.8 1729.2,329.1 1732.8,330.4 1718.5,371"/><polygon points="1720.1,343.5 1720.8,300.5 1724.6,300.5 1723.9,343.6"/><polygon points="1727.4,296.8 1741.1,255.9 1744.7,257.1 1731,298"/><polygon points="1782.7,776.9 1783,733 1786.8,733 1786.5,776.9"/><polygon points="1784.3,709.3 1784.3,666 1788.1,666 1788.1,709.3"/><polygon points="1785.2,646.3 1785.3,602 1789.1,602 1789,646.3"/><polygon points="1786.1,574.2 1786.6,530.7 1790.4,530.7 1789.9,574.2"/><polygon points="1786.5,506.6 1786.1,462.2 1789.9,462.2 1790.3,506.6"/><polygon points="1789.5,437.6 1788.2,393.6 1792,393.5 1793.3,437.5"/><polygon points="1950.7,719.9 1941,676.4 1944.7,675.6 1954.4,719.1"/><polygon points="1937,656.8 1928.1,613.3 1931.8,612.5 1940.7,656"/><polygon points="1919.6,582.3 1911,540.1 1914.7,539.3 1923.3,581.5"/><polygon points="1901.5,519.1 1890.4,476.8 1894.1,475.8 1905.2,518.1"/><polygon points="1898.2,490.2 1900.3,445.7 1904.1,445.9 1902,490.3"/><polygon points="1896.4,451.5 1886,408.3 1889.7,407.4 1900.1,450.7"/><polygon points="1875.7,384.4 1870.9,341.5 1874.7,341.1 1879.5,383.9"/><polygon points="2103.9,660 2087.6,618.8 2091.2,617.4 2107.4,658.6"/><polygon points="2071,599.7 2050.3,561.8 2053.6,560 2074.4,597.9"/><polygon points="2044.4,540.3 2022.1,502.3 2025.4,500.3 2047.7,538.4"/><polygon points="2013.5,479.2 1997.8,438.1 2001.4,436.7 2017,477.8"/><polygon points="1984.4,419.4 1961.5,381.5 1964.8,379.5 1987.7,417.4"/><polygon points="1956.7,360.1 1937.8,319.9 1941.2,318.3 1960.2,358.5"/><polygon points="1944.7,340.7 1914.9,309.6 1917.6,306.9 1947.4,338.1"/><polygon points="1930.3,321.4 1910.3,282.3 1913.7,280.5 1933.7,319.6"/><polygon points="1927.2,314.9 1919.2,271.3 1922.9,270.6 1930.9,314.2"/><polygon points="2080.5,462.5 2063.3,423 2066.8,421.5 2084,461"/><polygon points="2049,410.1 2026.8,372.2 2030.1,370.3 2052.3,408.2"/><polygon points="2012.2,350.6 1986.5,315.1 1989.6,312.9 2015.3,348.4"/><polygon points="1977.8,297.6 1950.5,262.5 1953.5,260.2 1980.8,295.2"/></g>
<polygon points="1468.5,408.2 1487,396.4 1478.4,416.6"/><polygon points="1512.6,357.9 1531.4,346.5 1522.3,366.5"/><polygon points="1559.9,306.6 1579,295.8 1569.3,315.5"/><polygon points="1603.7,258.1 1622.6,246.8 1613.4,266.8"/><polygon points="1649.3,215.2 1668.6,204.7 1658.6,224.3"/><polygon points="1508.5,508.8 1525.2,494.5 1519.5,515.7"/><polygon points="1540,450 1555.6,434.5 1551.4,456.1"/><polygon points="1580.2,396.4 1597.7,383.1 1590.8,404"/><polygon points="1618.2,337.9 1635.8,324.7 1628.8,345.5"/><polygon points="1657.2,285.3 1675.6,273.2 1667.3,293.6"/><polygon points="1625.1,652.4 1638.7,635.1 1637.3,657"/><polygon points="1641.9,582.6 1652.7,563.4 1654.7,585.3"/><polygon points="1670.6,520.5 1684.1,503.1 1682.8,525"/><polygon points="1684.6,455.7 1698.2,438.4 1696.7,460.3"/><polygon points="1696.7,394.2 1707.5,375 1709.4,396.9"/><polygon points="1724.8,327.6 1737.9,309.9 1737.1,331.9"/><polygon points="1716.2,300.4 1723.1,279.5 1729.2,300.6"/><polygon points="1736.8,254.4 1749.6,236.6 1749.1,258.6"/><polygon points="1778.4,733 1785,712 1791.4,733"/><polygon points="1778.4,733 1785,712 1791.4,733"/><polygon points="1779.7,666 1786.2,645 1792.7,666"/><polygon points="1779.7,666 1786.2,645 1792.7,666"/><polygon points="1780.7,602 1787.3,581 1793.7,602"/><polygon points="1780.7,602 1787.3,581 1793.7,602"/><polygon points="1782,530.6 1788.7,509.7 1795,530.8"/><polygon points="1782,530.6 1788.7,509.7 1795,530.8"/><polygon points="1781.5,462.2 1787.9,441.2 1794.5,462.2"/><polygon points="1781.5,462.2 1787.9,441.2 1794.5,462.2"/><polygon points="1783.6,393.8 1789.5,372.6 1796.6,393.4"/><polygon points="1783.6,393.8 1789.5,372.6 1796.6,393.4"/><polygon points="1936.5,677.4 1938.3,655.5 1949.2,674.6"/><polygon points="1923.6,614.2 1925.8,592.3 1936.3,611.6"/><polygon points="1906.5,541 1908.7,519.1 1919.2,538.4"/><polygon points="1885.9,478 1886.9,456 1898.5,474.7"/><polygon points="1895.7,445.5 1903.2,424.8 1908.7,446.1"/><polygon points="1881.6,409.3 1883,387.4 1894.2,406.3"/><polygon points="1866.4,342 1870.5,320.4 1879.3,340.5"/><polygon points="2083.3,620.5 2081.7,598.6 2095.4,615.8"/><polygon points="2046.3,564 2041.9,542.5 2057.7,557.8"/><polygon points="2018.1,504.6 2013.1,483.2 2029.3,498"/><polygon points="1993.5,439.7 1992.1,417.8 2005.7,435.1"/><polygon points="1957.6,383.8 1952.3,362.5 1968.7,377.1"/><polygon points="1933.6,321.9 1930.5,300.1 1945.3,316.3"/><polygon points="1911.5,312.8 1901.7,293.1 1920.9,303.8"/><polygon points="1906.2,284.4 1902.5,262.7 1917.8,278.5"/><polygon points="1914.7,272.1 1917.3,250.3 1927.5,269.8"/><polygon points="2059.1,424.8 2056.7,403 2071,419.7"/><polygon points="2022.8,374.5 2017.8,353.1 2034,367.9"/><polygon points="1982.8,317.8 1975.7,297 1993.3,310.2"/><polygon points="1946.9,265.4 1939.1,244.8 1957.1,257.4"/>
</g>
<g fill="#fff" fill-opacity="0.7" stroke="#fff" stroke-opacity="0.7" stroke-width="7" stroke-linejoin="round"><polygon points="1432.1,464.3 1451.9,454.8 1440.9,473.8"/><polygon points="1479.6,569.1 1497.9,556.9 1489.7,577.3"/><polygon points="1610.8,712.5 1624.2,695.1 1623,717.1"/><polygon points="1776.7,797.2 1783.3,776.2 1789.7,797.2"/><polygon points="1944,739.8 1944.5,717.8 1956.5,736.2"/><polygon points="2082,648.1 2074.7,627.4 2092.4,640.4"/><polygon points="2064.5,462.2 2056,441.9 2074.5,453.8"/></g>
<g fill="#f8766d" fill-opacity="0.68"><polygon points="1404,496.5 1435.2,467.7 1432.1,464.3 1451.9,454.8 1440.9,473.8 1437.8,470.5 1406.6,499.3"/><polygon points="1456.7,604.7 1483.2,572 1479.6,569.1 1497.9,556.9 1489.7,577.3 1486.2,574.4 1459.7,607.1"/><polygon points="1600.1,754.8 1615.1,714.1 1610.8,712.5 1624.2,695.1 1623,717.1 1618.7,715.5 1603.7,756.2"/><polygon points="1781.1,840 1781.3,797.2 1776.7,797.2 1783.3,776.2 1789.7,797.2 1785.1,797.2 1784.9,840"/><polygon points="1959.9,778.8 1948.4,738.5 1944,739.8 1944.5,717.8 1956.5,736.2 1952.1,737.5 1963.5,777.8"/><polygon points="2110.5,678.9 2085.7,645.4 2082,648.1 2074.7,627.4 2092.4,640.4 2088.7,643.1 2113.5,676.7"/><polygon points="2094.4,490.8 2068,459.2 2064.5,462.2 2056,441.9 2074.5,453.8 2070.9,456.8 2097.4,488.4"/></g>
<g fill="none" stroke="#00ff00" stroke-opacity="0.6" stroke-width="5.9"><path d="M1779 174L1783 155.5"/></g>
<g fill="#f8766d" fill-opacity="0.5">
<polygon points="1699.9,182.8 1724.6,147.6 1720.8,145 1738.2,131.5 1731.5,152.4 1727.7,149.8 1703,185"/>
<polygon points="1784.4,164.2 1785.7,155.3 1781.1,154.7 1790.5,134.8 1794,156.5 1789.5,155.9 1788.2,164.8"/>
<polygon points="1859.3,221.9 1844.6,181.5 1840.3,183.1 1839.2,161.1 1852.5,178.6 1848.2,180.2 1862.9,220.6"/>
</g>
</g>
<rect x="1275" y="86" width="5" height="831" fill="#000"/>
<rect x="1275" y="912" width="1030" height="5" fill="#000"/>
<use href="#rb" transform="translate(1767.6 199.3) scale(0.975 1.025) rotate(15)" opacity="0.57"/>
<ellipse cx="1732.2" cy="209.9" rx="40.7" ry="41.2" fill="none" stroke="#fff" stroke-opacity="0.5" stroke-width="1.8"/>
<use href="#rb" transform="translate(1732.2 209.9) scale(1.007 1.020) rotate(20)" opacity="0.57"/>
<ellipse cx="1699.6" cy="181.4" rx="40.9" ry="41.4" fill="none" stroke="#fff" stroke-opacity="0.5" stroke-width="1.8"/>
<use href="#rb" transform="translate(1699.6 181.4) scale(1.012 1.025) rotate(23)" opacity="0.57"/>
<ellipse cx="1795.4" cy="284" rx="39.2" ry="40" fill="#0a0a0a" fill-opacity="0.7"/>
<ellipse cx="1795.4" cy="284" rx="39.2" ry="40" fill="#0a0a0a" fill-opacity="0.7"/>
<use href="#rb" transform="translate(1795.4 284) scale(0.980 1.000) rotate(0)" opacity="0.57"/>
<ellipse cx="1841" cy="273.3" rx="40.3" ry="39.8" fill="none" stroke="#fff" stroke-opacity="0.5" stroke-width="1.8"/>
<use href="#rb" transform="translate(1841 273.3) scale(0.997 0.985) rotate(-8)" opacity="0.57"/>
<ellipse cx="1868.1" cy="217.3" rx="40.1" ry="41.2" fill="none" stroke="#fff" stroke-opacity="0.5" stroke-width="1.8"/>
<use href="#rb" transform="translate(1868.1 217.3) scale(0.993 1.020) rotate(-15)" opacity="0.57"/>
<ellipse cx="1905" cy="209.1" rx="41.1" ry="41" fill="none" stroke="#fff" stroke-opacity="0.5" stroke-width="1.8"/>
<use href="#rb" transform="translate(1905 209.1) scale(1.018 1.015) rotate(-32)" opacity="0.57"/>
<use href="#rb" transform="translate(1400.3 500) scale(1.025 0.988) rotate(41)" opacity="0.66"/>
<use href="#rb" transform="translate(1453 609) scale(1.025 0.993) rotate(35)" opacity="0.66"/>
<use href="#rb" transform="translate(1598.7 758.6) scale(1.010 1.010) rotate(17)" opacity="0.66"/>
<use href="#rb" transform="translate(1782.6 844.3) scale(0.975 1.025) rotate(0)" opacity="0.66"/>
<use href="#rb" transform="translate(1964 783.7) scale(1.005 1.015) rotate(-15)" opacity="0.66"/>
<use href="#rb" transform="translate(2116.9 681.2) scale(1.018 1.002) rotate(-32)" opacity="0.66"/>
<use href="#rb" transform="translate(2100.9 491.4) scale(1.015 0.993) rotate(-34)" opacity="0.66"/>
</g>
<g id="labels">
<text x="85.19" y="184.5" font-size="48.5" textLength="26.1" lengthAdjust="spacingAndGlyphs">3</text>
<text x="85.39" y="406.9" font-size="48.5" textLength="26.75" lengthAdjust="spacingAndGlyphs">2</text>
<text x="85.35" y="644.1" font-size="48.5" textLength="24.71" lengthAdjust="spacingAndGlyphs">1</text>
<text x="85.87" y="866.5" font-size="48.5" textLength="25.36" lengthAdjust="spacingAndGlyphs">0</text>
<text x="194.94" y="976" font-size="48.5" textLength="25.71" lengthAdjust="spacingAndGlyphs">0</text>
<text x="414.03" y="976" font-size="48.5" textLength="24.29" lengthAdjust="spacingAndGlyphs">1</text>
<text x="640.47" y="975.9" font-size="48.5" textLength="27" lengthAdjust="spacingAndGlyphs">2</text>
<text x="870.3" y="976.5" font-size="48.5" textLength="25.98" lengthAdjust="spacingAndGlyphs">3</text>
<text x="1100.04" y="976.1" font-size="48.5" textLength="24.09" lengthAdjust="spacingAndGlyphs">4</text>
<text><tspan x="520.73" y="1024.2" font-size="50" textLength="31.31" lengthAdjust="spacingAndGlyphs">X</tspan> <tspan x="564.12" y="1024.2" font-size="48.5" textLength="254.48" lengthAdjust="spacingAndGlyphs">position [m]</tspan></text>
<text transform="translate(56.1 614.8) rotate(-90)"><tspan x="-0.44" y="0" font-size="50" textLength="31.84" lengthAdjust="spacingAndGlyphs">Y</tspan> <tspan x="43.52" y="0" font-size="48.5" textLength="254.79" lengthAdjust="spacingAndGlyphs">position [m]</tspan></text>
<text x="555.16" y="75.3" font-size="38.7" textLength="193.25" lengthAdjust="spacingAndGlyphs">STAIRCASE</text>
<text><tspan x="180.67" y="603.7" font-size="40.7" textLength="59.79" lengthAdjust="spacingAndGlyphs">test</tspan> <tspan x="250.9" y="603.7" font-size="42.33" textLength="22.38" lengthAdjust="spacingAndGlyphs">1</tspan></text>
<text><tspan x="298.06" y="737.2" font-size="40.7" textLength="61.05" lengthAdjust="spacingAndGlyphs">test</tspan> <tspan x="369.76" y="737.2" font-size="42.33" textLength="22.85" lengthAdjust="spacingAndGlyphs">2</tspan></text>
<text><tspan x="427.56" y="849.2" font-size="40.7" textLength="61.34" lengthAdjust="spacingAndGlyphs">test</tspan> <tspan x="499.57" y="849.2" font-size="42.33" textLength="22.96" lengthAdjust="spacingAndGlyphs">3</tspan></text>
<text><tspan x="684.57" y="908" font-size="40.7" textLength="60.42" lengthAdjust="spacingAndGlyphs">test</tspan> <tspan x="755.46" y="908" font-size="42.33" textLength="22.62" lengthAdjust="spacingAndGlyphs">4</tspan></text>
<text><tspan x="827.06" y="692.7" font-size="40.7" textLength="60.88" lengthAdjust="spacingAndGlyphs">test</tspan> <tspan x="898.53" y="692.7" font-size="42.33" textLength="22.79" lengthAdjust="spacingAndGlyphs">5</tspan></text>
<text><tspan x="925.97" y="505.5" font-size="40.7" textLength="59.93" lengthAdjust="spacingAndGlyphs">test</tspan> <tspan x="996.31" y="505.5" font-size="42.33" textLength="22.43" lengthAdjust="spacingAndGlyphs">6</tspan></text>
<text><tspan x="551.05" y="1161" font-size="76" textLength="22.59" lengthAdjust="spacingAndGlyphs">(</tspan><tspan x="574.73" y="1162.7" font-size="77.5" textLength="34.51" lengthAdjust="spacingAndGlyphs" font-weight="bold">a</tspan><tspan x="611.59" y="1161" font-size="76" textLength="22.29" lengthAdjust="spacingAndGlyphs">)</tspan></text>
<text x="1232.09" y="193.1" font-size="47.9" textLength="26.1" lengthAdjust="spacingAndGlyphs">3</text>
<text x="1231.79" y="414.7" font-size="47.9" textLength="26.75" lengthAdjust="spacingAndGlyphs">2</text>
<text x="1232.65" y="647.2" font-size="47.9" textLength="25.29" lengthAdjust="spacingAndGlyphs">1</text>
<text x="1231.65" y="866.4" font-size="47.9" textLength="25.6" lengthAdjust="spacingAndGlyphs">0</text>
<text x="1317.88" y="979.4" font-size="47.9" textLength="25.24" lengthAdjust="spacingAndGlyphs">0</text>
<text x="1532.67" y="979.1" font-size="47.9" textLength="25.71" lengthAdjust="spacingAndGlyphs">1</text>
<text x="1757.49" y="979.3" font-size="47.9" textLength="26.75" lengthAdjust="spacingAndGlyphs">2</text>
<text x="1983.83" y="979.5" font-size="47.9" textLength="26.71" lengthAdjust="spacingAndGlyphs">3</text>
<text x="2210.93" y="979.3" font-size="47.9" textLength="24.19" lengthAdjust="spacingAndGlyphs">4</text>
<text><tspan x="1639.74" y="1024.2" font-size="49.37" textLength="31.21" lengthAdjust="spacingAndGlyphs">X</tspan> <tspan x="1682.03" y="1024.2" font-size="47.87" textLength="252.24" lengthAdjust="spacingAndGlyphs">position [m]</tspan></text>
<text transform="translate(1198 579.9) rotate(-90)"><tspan x="-0.41" y="0" font-size="49.37" textLength="29.84" lengthAdjust="spacingAndGlyphs">Y</tspan> <tspan x="42.63" y="0" font-size="47.87" textLength="251.83" lengthAdjust="spacingAndGlyphs">position [m]</tspan></text>
<text x="1702.11" y="99.5" font-size="38" textLength="189.16" lengthAdjust="spacingAndGlyphs">STAIRCASE</text>
<text><tspan x="1319.57" y="437.6" font-size="40.2" textLength="60.06" lengthAdjust="spacingAndGlyphs">test</tspan> <tspan x="1390.11" y="437.6" font-size="41.81" textLength="22.48" lengthAdjust="spacingAndGlyphs">1</tspan></text>
<text><tspan x="1401.36" y="682.7" font-size="40.2" textLength="61.05" lengthAdjust="spacingAndGlyphs">test</tspan> <tspan x="1473.06" y="682.7" font-size="41.81" textLength="22.85" lengthAdjust="spacingAndGlyphs">2</tspan></text>
<text><tspan x="1545.47" y="841.3" font-size="40.2" textLength="59.48" lengthAdjust="spacingAndGlyphs">test</tspan> <tspan x="1615.31" y="841.3" font-size="41.81" textLength="22.27" lengthAdjust="spacingAndGlyphs">3</tspan></text>
<text><tspan x="1643.17" y="893.8" font-size="40.2" textLength="59.5" lengthAdjust="spacingAndGlyphs">test</tspan> <tspan x="1712.99" y="893.8" font-size="41.81" textLength="22.28" lengthAdjust="spacingAndGlyphs">4</tspan></text>
<text><tspan x="1920.77" y="866.5" font-size="40.2" textLength="59.22" lengthAdjust="spacingAndGlyphs">test</tspan> <tspan x="1990.31" y="866.5" font-size="41.81" textLength="22.17" lengthAdjust="spacingAndGlyphs">5</tspan></text>
<text><tspan x="2091.87" y="765.7" font-size="40.2" textLength="60.12" lengthAdjust="spacingAndGlyphs">test</tspan> <tspan x="2162.44" y="765.7" font-size="41.81" textLength="22.51" lengthAdjust="spacingAndGlyphs">6</tspan></text>
<text><tspan x="2109.57" y="430.3" font-size="40.2" textLength="59.93" lengthAdjust="spacingAndGlyphs">test</tspan> <tspan x="2179.91" y="430.3" font-size="41.81" textLength="22.43" lengthAdjust="spacingAndGlyphs">7</tspan></text>
<text><tspan x="1690.35" y="1161" font-size="76" textLength="24.03" lengthAdjust="spacingAndGlyphs">(</tspan><tspan x="1713" y="1162.7" font-size="78" textLength="44.49" lengthAdjust="spacingAndGlyphs" font-weight="bold">b</tspan><tspan x="1758.5" y="1161" font-size="76" textLength="24.47" lengthAdjust="spacingAndGlyphs">)</tspan></text>
</g>
</svg></body></html>
